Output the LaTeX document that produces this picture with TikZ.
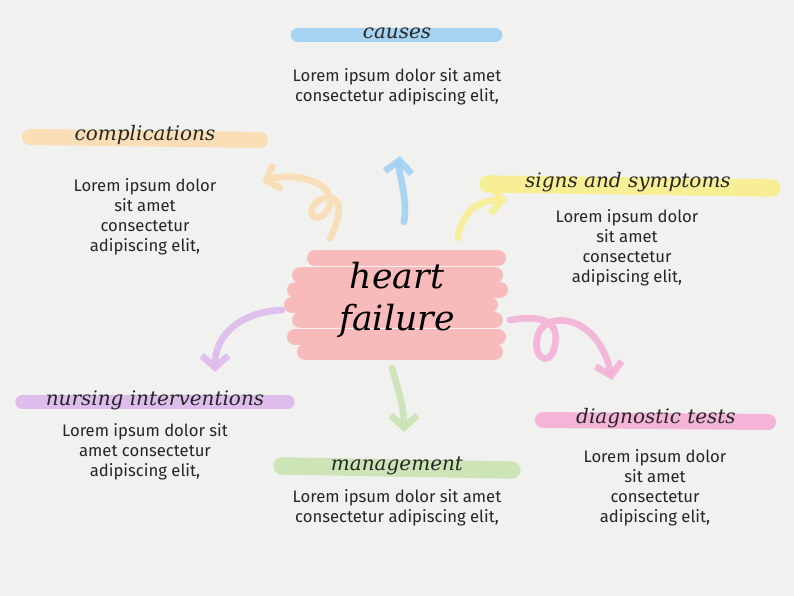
\documentclass[tikz,border=0pt]{standalone}
\usepackage{fontspec}
\setmainfont{Fira Sans}
\newfontfamily\hand{DejaVu Serif}
\usetikzlibrary{arrows.meta}
\definecolor{bg}{HTML}{F1F1F0}
\definecolor{cblue}{HTML}{9ED0F2}
\definecolor{corange}{HTML}{FBDDB0}
\definecolor{cyellow}{HTML}{F8EE8C}
\definecolor{cpink}{HTML}{F8B6B6}
\definecolor{cpurple}{HTML}{DDB8EC}
\definecolor{cgreen}{HTML}{C9E3B0}
\definecolor{cmag}{HTML}{F4AED6}
\tikzset{
 hl/.style={line width=#1, line cap=round, opacity=0.9},
 title/.style={font=\hand\itshape\fontsize{15}{18}\selectfont, text=black!85},
 body/.style={font=\fontsize{12.5}{15}\selectfont, align=center, text=black!85},
 arr/.style={line width=5pt, line cap=round, line join=round, opacity=0.85, -{Straight Barb[length=9pt,width=20pt]}}
}
\begin{document}
\begin{tikzpicture}[x=0.75pt,y=-0.75pt]
\fill[bg] (0,0) rectangle (794,596);
% highlights
\draw[cblue,hl=11pt] (298,35) -- (495,35);
\draw[corange,hl=12pt] (30,137) -- (260,140);
\draw[cyellow,hl=13pt] (488,184) -- (772,188);
\draw[cpurple,hl=10pt] (22,402) -- (288,402);
\draw[cgreen,hl=13pt] (282,466) -- (512,470);
\draw[cmag,hl=12pt] (543,420) -- (768,422);
\foreach \y/\a/\b in {258/315/498,275/300/495,290/295/500,305/292/490,320/300/495,337/295/498,352/305/495}
  \draw[cpink,hl=12pt] (\a,\y) -- (\b,\y);
% titles
\node[title] (tc) at (397,33) {causes};
\node[title] (tco) at (145,135) {complications};
\node[title] (ts) at (628,182) {signs and symptoms};
\node[title] (tn) at (155,400) {nursing interventions};
\node[title] (tm) at (397,466) {management};
\node[title] (td) at (656,418) {diagnostic tests};
\node[font=\hand\itshape\fontsize{26}{32}\selectfont, align=center] (hf) at (397,300) {heart\\failure};
% bodies
\node[body] (bc) at (397,87) {Lorem ipsum dolor sit amet\\consectetur adipiscing elit,};
\node[body] (bco) at (145,217) {Lorem ipsum dolor\\sit amet\\consectetur\\adipiscing elit,};
\node[body] (bs) at (627,248) {Lorem ipsum dolor\\sit amet\\consectetur\\adipiscing elit,};
\node[body] (bn) at (145,452) {Lorem ipsum dolor sit\\amet consectetur\\adipiscing elit,};
\node[body] (bm) at (397,508) {Lorem ipsum dolor sit amet\\consectetur adipiscing elit,};
\node[body] (bd) at (655,488) {Lorem ipsum dolor\\sit amet\\consectetur\\adipiscing elit,};
% arrows
\coordinate (a1) at (404,222); \coordinate (a1e) at (400,156);
\draw[arr, cblue] (a1) .. controls (408,195) and (398,175) .. (a1e);
\coordinate (a2) at (330,238); \coordinate (a2e) at (262,182);
\draw[arr, corange] (a2) .. controls (345,210) and (340,190) .. (320,200) .. controls (300,212) and (320,230) .. (330,205) .. controls (335,180) and (290,172) .. (a2e);
\coordinate (a3) at (458,238); \coordinate (a3e) at (507,200);
\draw[arr, cyellow] (a3) .. controls (462,210) and (480,200) .. (a3e);
\coordinate (a4) at (282,310); \coordinate (a4e) at (215,372);
\draw[arr, cpurple] (a4) .. controls (240,312) and (215,335) .. (a4e);
\coordinate (a5) at (392,368); \coordinate (a5e) at (404,432);
\draw[arr, cgreen] (a5) .. controls (400,395) and (404,410) .. (a5e);
\coordinate (a6) at (510,320); \coordinate (a6e) at (612,380);
\draw[arr, cmag] (a6) .. controls (540,315) and (560,320) .. (555,345) .. controls (550,372) and (528,355) .. (540,330) .. controls (555,310) and (600,320) .. (a6e);
\end{tikzpicture}
\end{document}
